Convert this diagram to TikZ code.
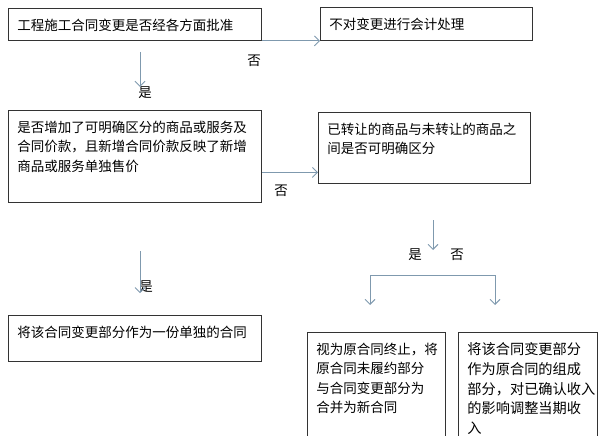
\documentclass[tikz,border=0pt]{standalone}
\usepackage{fontspec}
\setmainfont{Noto Sans CJK SC}
\usetikzlibrary{arrows.meta}
\definecolor{arrowgray}{HTML}{7F99AE}
\tikzset{
    %Define standard arrow tip
    >={Straight Barb[length=5pt,width=10pt]},
}

\begin{document}
\begin{tikzpicture}[x=1pt, y=-1pt,
    cbox/.style = {draw=black!80, line width=0.9pt, anchor=north west,
                   align=left, inner xsep=9pt, inner ysep=8pt, text height=14pt,
                   font=\fontsize{13.5}{19.5}\selectfont},
    flow/.style = {draw=arrowgray, line width=0.9pt},
    lbl/.style  = {inner sep=0pt, font=\fontsize{13.5}{16}\selectfont},
  ]
  \clip (0,0) rectangle (600,436);
  \node[cbox, text width=235pt, text depth=2pt] (approve) at (8,8)
    {工程施工合同变更是否经各方面批准};
  \node[cbox, text width=194pt, text depth=3pt] (noacct) at (320,7)
    {不对变更进行会计处理};
  \node[cbox, text width=235pt, text depth=62pt] (added) at (8,110)
    {是否增加了可明确区分的商品或服务及\\合同价款，且新增合同价款反映了新增\\商品或服务单独售价};
  \node[cbox, text width=194pt, text depth=41pt] (distinct) at (318,112)
    {已转让的商品与未转让的商品之\\间是否可明确区分};
  \node[cbox, text width=235pt, text depth=16pt] (separate) at (8,315)
    {将该合同变更部分作为一份单独的合同};
  \node[cbox, text width=120pt, text depth=100pt] (newcontract) at (307,332)
    {视为原合同终止，将\\原合同未履约部分\\与合同变更部分为\\合并为新合同};
  \node[cbox, text width=121pt, text depth=100pt,
        font=\fontsize{14.2}{19.8}\selectfont] (partof) at (458,332)
    {将该合同变更部分\\作为原合同的组成\\部分，对已确认收入\\的影响调整当期收\\入};
  % yes / no labels
  \node[lbl] (no1)  at (254,61)  {否};
  \node[lbl] (yes1) at (145,93)  {是};
  \node[lbl] (no2)  at (281,191) {否};
  \node[lbl] (yes2) at (146,287) {是};
  \node[lbl] (yes3) at (415,255) {是};
  \node[lbl] (no3)  at (457,255) {否};
  \coordinate (y1) at (140,52);
  \coordinate (y2) at (140,251);
  \coordinate (s1) at (433,220);
  \coordinate (s2) at (433,250);
  \coordinate (bl) at (370,275);
  \coordinate (br) at (495,275);
  \coordinate (tl) at (370,305);
  \coordinate (tr) at (495,305);
  \draw[flow,->] (approve.south east) -- (noacct.south west);
  \draw[flow,->] (y1) -- (y1 |- yes1.north);
  \draw[flow,->] ([yshift=-16pt]added.east) -- ([yshift=-16pt]added.east -| distinct.west);
  \draw[flow,->] (y2) -- (y2 |- yes2.south);
  \draw[flow,->] (s1) -- (s2);
  \draw[flow,<->] (tl) -- (bl) -- (br) -- (tr);
\end{tikzpicture}
\end{document}
